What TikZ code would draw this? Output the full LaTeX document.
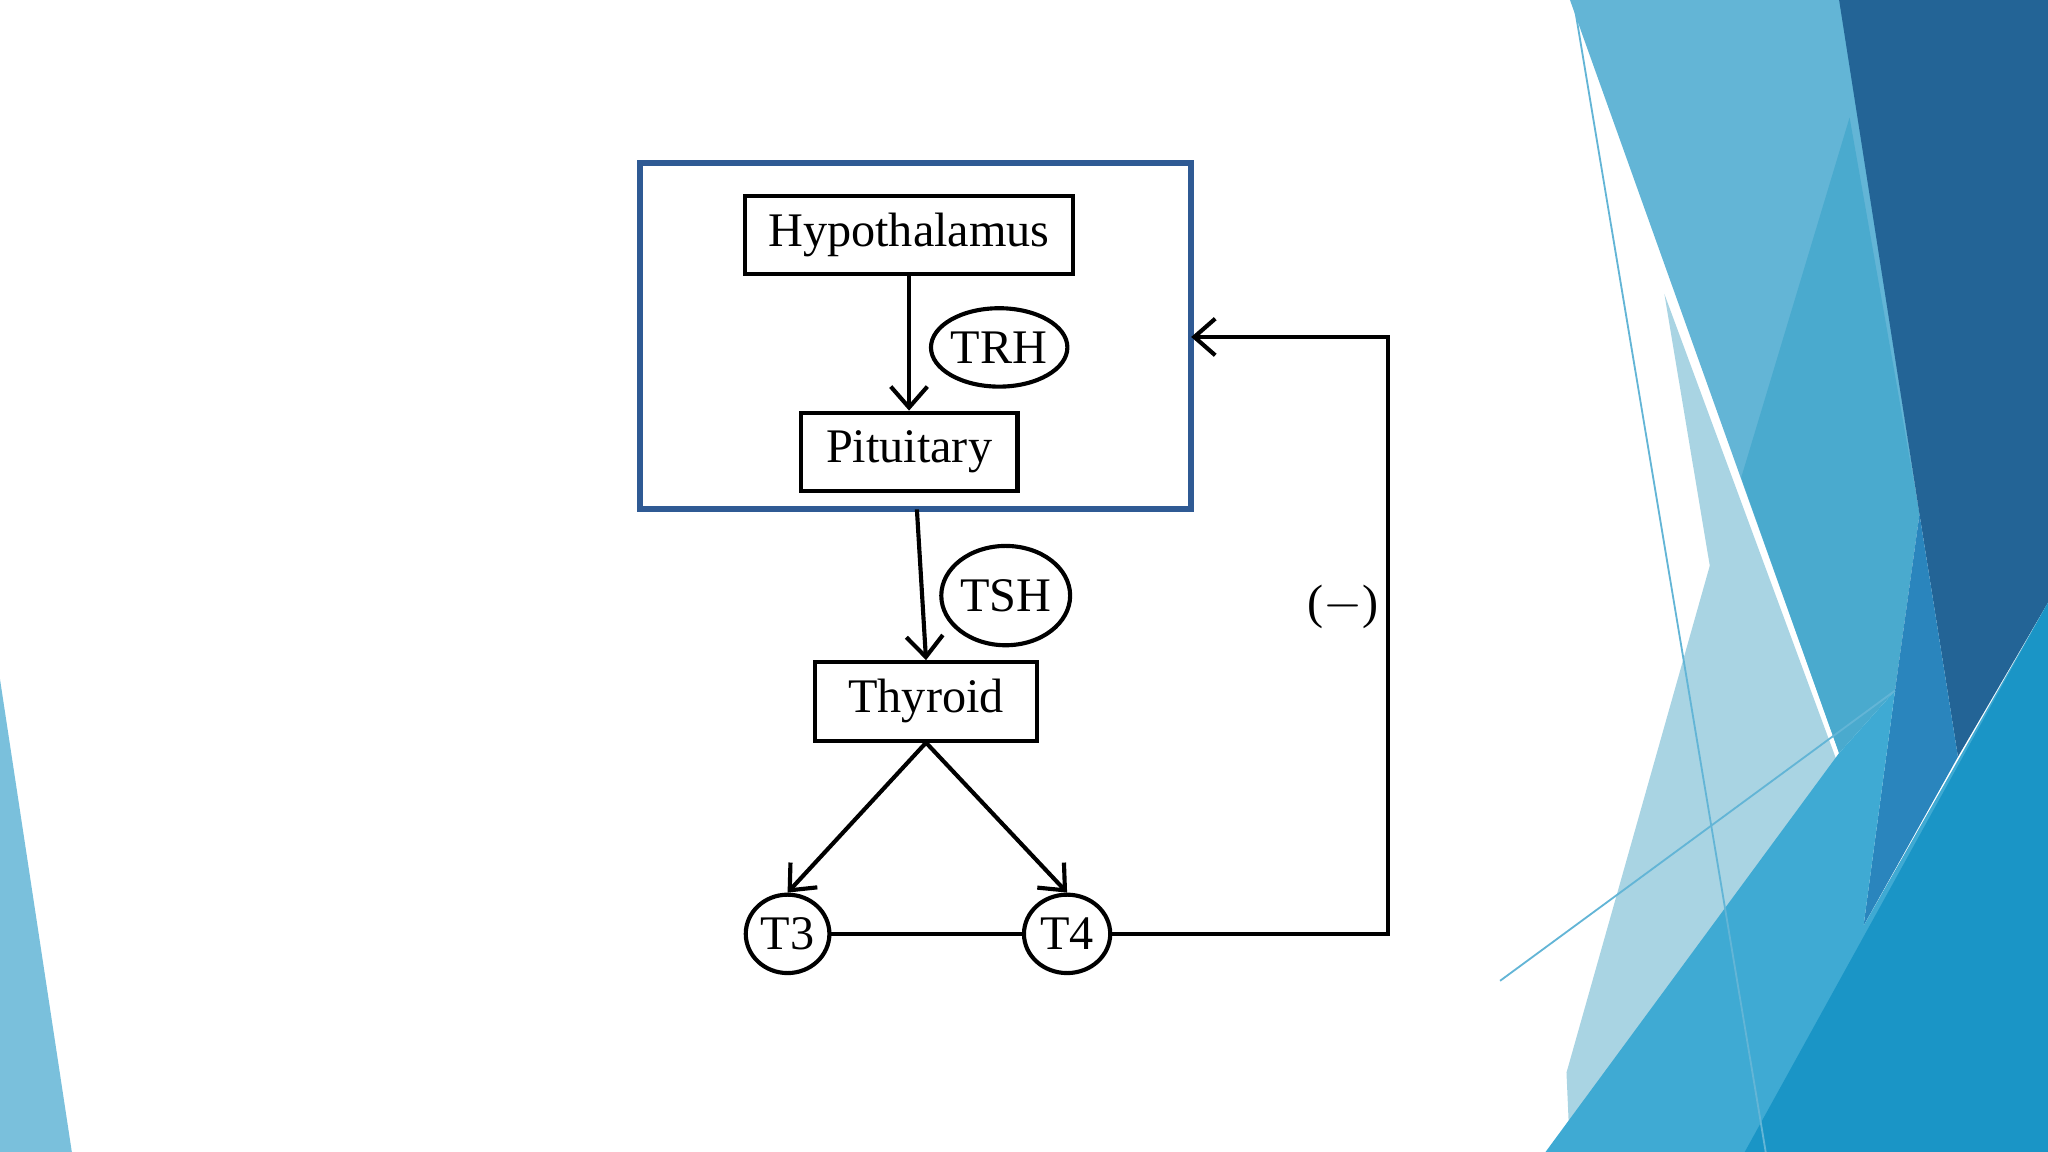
\documentclass[tikz,border=0pt]{standalone}
\usepackage{fontspec}
\setmainfont{Liberation Serif}
\usetikzlibrary{arrows.meta,shapes.geometric}

\definecolor{frameblue}{HTML}{2F5A94}
\definecolor{bglight}{HTML}{63B5D6}
\definecolor{bgmid}{HTML}{4AAACE}
\definecolor{bgpale}{HTML}{A9D4E3}
\definecolor{bgdark}{HTML}{236496}
\definecolor{bgdeep}{HTML}{2A85BD}
\definecolor{bgband}{HTML}{3FAAD3}
\definecolor{bgsea}{HTML}{1A95C6}

\tikzset{
	organ/.style={draw, line width=0.9pt, inner sep=0pt, minimum height=0.6cm, font=\fontsize{10.5}{12}\selectfont},
	hormone/.style={draw, ellipse, line width=0.9pt, inner sep=0pt, font=\fontsize{10.5}{12}\selectfont},
	flow/.style={->, line width=0.9pt}
}

\begin{document}
\begin{tikzpicture}[x=0.01cm, y=-0.01cm, >={Straight Barb[length=1.6mm,width=2.8mm]}]
	\useasboundingbox (0,0) rectangle (1568,882);

	% background shapes
	\begin{scope}[shift={(1148.5,0)}, xscale=0.2676, yscale=0.5625]
		\fill[bglight] (200,0) -- (975,0) -- (1200,700) -- (970,1025) -- cycle;
		\fill[bgmid] (1000,160) -- (1200,700) -- (1130,940) -- (970,1025) -- (690,650) -- cycle;
		\fill[bgpale] (470,400) -- (1060,1160) -- (200,1568) -- (190,1460) -- (600,770) -- cycle;
		\fill[bgdark] (970,0) -- (1568,0) -- (1568,820) -- (1310,1030) -- (1200,700) -- cycle;
		\fill[bgdeep] (1200,700) -- (1310,1030) -- (1040,1260) -- (1130,940) -- cycle;
		\fill[bgband] (130,1568) -- (970,1025) -- (1130,940) -- (1040,1260) -- (1568,820) -- (1568,1568) -- cycle;
		\fill[bgsea] (700,1568) -- (1568,820) -- (1568,1568) -- cycle;
		\draw[bglight, line width=0.4pt] (210,0) -- (760,1568);
		\draw[bglight, line width=0.4pt] (0,1335) -- (1130,940);
	\end{scope}
	\fill[bglight!85!white] (0,520) -- (55,882) -- (0,882) -- cycle;

	% frame
	\draw[frameblue, line width=1.3pt] (490,125) rectangle (912,390);
	\coordinate (frameE) at (912,258);

	% nodes
	\node [organ, minimum width=2.51cm] (hyp) at (696,180) {Hypothalamus};
	\node [organ, minimum width=1.66cm] (pit) at (696,346) {Pituitary};
	\node [organ, minimum width=1.70cm] (thy) at (709,537) {Thyroid};
	\node [hormone, minimum width=1.0cm, minimum height=0.6cm] (trh) at (765,266) {TRH};
	\node [hormone, minimum width=0.92cm, minimum height=0.76cm] (tsh) at (770,456) {TSH};
	\node [hormone, minimum width=0.64cm, minimum height=0.6cm] (t3) at (603,715) {T3};
	\node [hormone, minimum width=0.66cm, minimum height=0.6cm] (t4) at (817,715) {T4};
	\node [font=\fontsize{10.5}{12}\selectfont] (neg) at (1028,465) {($-$)};
	\coordinate (loop) at (1063,715);

	% connectors
	\draw [flow] (hyp.south) -- (pit.north);
	\draw [flow] (702,390) -- (thy.north);
	\draw [flow] (thy.south) -- (t3.north);
	\draw [flow] (thy.south) -- (t4.north);
	\draw [line width=0.9pt] (t3) -- (t4);
	\draw [flow] (t4.east) -- (loop) |- (frameE);
\end{tikzpicture}
\end{document}
